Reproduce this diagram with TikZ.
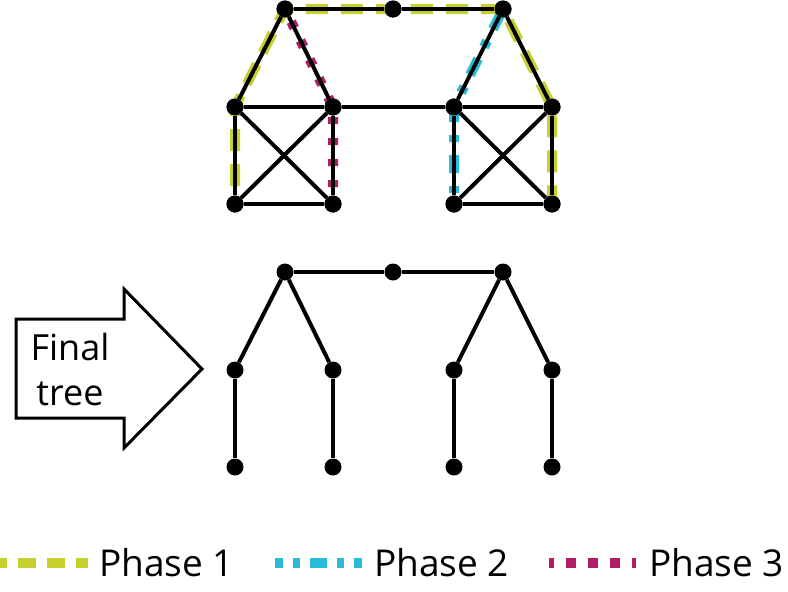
\documentclass[tikz,border=0pt]{standalone}
\usepackage{fontspec}
\setmainfont{Open Sans}
\definecolor{phaseone}{RGB}{198,208,46}
\definecolor{phasetwo}{RGB}{44,187,214}
\definecolor{phasethree}{RGB}{176,30,104}
\begin{document}
\begin{tikzpicture}[x=1pt,y=-1pt,
  vtx/.style={circle,fill=black,inner sep=0pt,minimum size=17pt},
  edge/.style={line width=4pt},
  pone/.style={draw=phaseone,line width=10pt,dash pattern=on 22pt off 13pt},
  ptwo/.style={draw=phasetwo,line width=10pt,dash pattern=on 18pt off 13pt on 7pt off 13pt},
  pthree/.style={draw=phasethree,line width=10pt,dash pattern=on 7pt off 14pt},
  lone/.style={draw=phaseone,line width=10pt,dash pattern=on 18pt off 11pt,dash phase=11pt},
  ltwo/.style={draw=phasetwo,line width=10pt,dash pattern=on 17pt off 10pt on 7pt off 10pt,dash phase=9pt},
  lthree/.style={draw=phasethree,line width=10pt,dash pattern=on 10pt off 12pt,dash phase=5pt},
  legtext/.style={anchor=base west,inner sep=0pt,font=\fontsize{37}{45}\selectfont},
  arrowtext/.style={align=center,inner sep=0pt,font=\fontsize{36}{45}\selectfont}]
\useasboundingbox (0,0) rectangle (788,592);

% ---------- top graph ----------
\node[vtx] (a1) at (285,9) {};
\node[vtx] (a2) at (393,9) {};
\node[vtx] (a3) at (503,9) {};
\node[vtx] (b1) at (235,107) {};
\node[vtx] (b2) at (333,107) {};
\node[vtx] (b3) at (454,107) {};
\node[vtx] (b4) at (552,107) {};
\node[vtx] (c1) at (235,204) {};
\node[vtx] (c2) at (333,204) {};
\node[vtx] (c3) at (454,204) {};
\node[vtx] (c4) at (552,204) {};

% phase overlays
\draw[pone,dash phase=17pt] (c1.center) -- (b1.center) -- (a1.center) -- (a2.center) -- (a3.center) -- (b4.center) -- (c4.center);
\draw[ptwo,dash phase=20pt] (c3.center) -- (b3.center) -- (a3.center);
\draw[pthree,dash phase=4pt] (c2.center) -- (b2.center) -- (a1.center);

% black edges
\draw[edge] (a1) -- (a2);
\draw[edge] (a2) -- (a3);
\draw[edge] (a1) -- (b1);
\draw[edge] (a1) -- (b2);
\draw[edge] (a3) -- (b3);
\draw[edge] (a3) -- (b4);
\draw[edge] (b1) -- (b2);
\draw[edge] (b2) -- (b3);
\draw[edge] (b3) -- (b4);
\draw[edge] (b1) -- (c1);
\draw[edge] (b2) -- (c2);
\draw[edge] (c1) -- (c2);
\draw[edge] (b1) -- (c2);
\draw[edge] (b2) -- (c1);
\draw[edge] (b3) -- (c3);
\draw[edge] (b4) -- (c4);
\draw[edge] (c3) -- (c4);
\draw[edge] (b3) -- (c4);
\draw[edge] (b4) -- (c3);
\foreach \n in {a1,a2,a3,b1,b2,b3,b4,c1,c2,c3,c4} \fill (\n) circle (8.5pt);

% ---------- final tree ----------
\node[vtx] (d1) at (285,272) {};
\node[vtx] (d2) at (393,272) {};
\node[vtx] (d3) at (503,272) {};
\node[vtx] (e1) at (235,370) {};
\node[vtx] (e2) at (333,370) {};
\node[vtx] (e3) at (454,370) {};
\node[vtx] (e4) at (552,370) {};
\node[vtx] (f1) at (235,467) {};
\node[vtx] (f2) at (333,467) {};
\node[vtx] (f3) at (454,467) {};
\node[vtx] (f4) at (552,467) {};
\draw[edge] (d1) -- (d2);
\draw[edge] (d2) -- (d3);
\draw[edge] (d1) -- (e1);
\draw[edge] (d1) -- (e2);
\draw[edge] (d3) -- (e3);
\draw[edge] (d3) -- (e4);
\draw[edge] (e1) -- (f1);
\draw[edge] (e2) -- (f2);
\draw[edge] (e3) -- (f3);
\draw[edge] (e4) -- (f4);

% ---------- arrow ----------
\draw[line width=3pt,line join=miter,fill=white]
  (16,319) -- (124,319) -- (124,289) -- (202,369) -- (124,448) -- (124,418) -- (16,418) -- cycle;
\node[arrowtext] (ft) at (70,369) {Final\\tree};

% ---------- legend ----------
\coordinate (l1a) at (0,563);
\coordinate (l1b) at (88,563);
\coordinate (l2a) at (275,563);
\coordinate (l2b) at (362,563);
\coordinate (l3a) at (549,563);
\coordinate (l3b) at (636,563);
\draw[lone] (l1a) -- (l1b);
\draw[ltwo] (l2a) -- (l2b);
\draw[lthree] (l3a) -- (l3b);
\node[legtext] (t1) at (99,576) {Phase 1};
\node[legtext] (t2) at (374,576) {Phase 2};
\node[legtext] (t3) at (649,576) {Phase 3};
\end{tikzpicture}
\end{document}
